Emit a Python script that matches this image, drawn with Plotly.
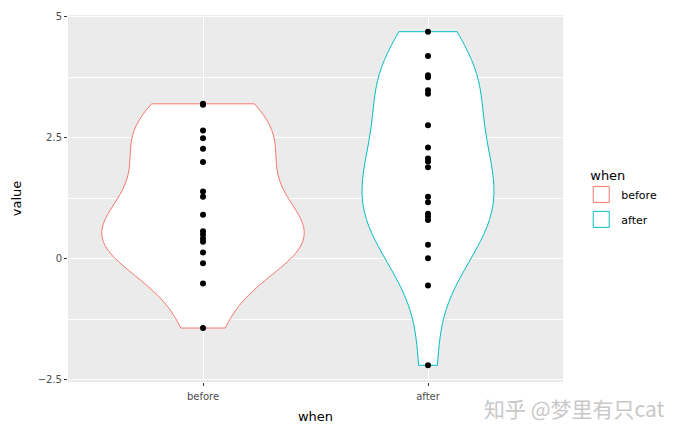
import numpy as np
import plotly.graph_objects as go

# valores
grupos = ["before", "after"]
valores_before = [3.20, 3.18, 2.65, 2.49, 2.27, 2.00, 1.39, 1.28, 0.91, 0.57, 0.50,
                  0.42, 0.35, 0.13, -0.09, -0.51, -1.43]
valores_after = [4.69, 4.19, 3.79, 3.75, 3.48, 3.41, 2.76, 2.30, 2.07, 2.01, 1.89,
                 1.28, 1.17, 0.93, 0.87, 0.80, 0.29, 0.01, -0.55, -2.20]
colores = ["#F8766D", "#00BFC4"]
anchos = [0.9, 0.585]


# ancho de banda estilo bw.nrd0 de R
def bw_nrd0(x):
    x = np.asarray(x)
    iqr = np.subtract(*np.percentile(x, [75, 25]))
    lo = min(np.std(x, ddof=1), iqr / 1.34)
    return 0.9 * lo * len(x) ** -0.2


fig = go.Figure()
for nombre, vals, color, ancho in zip(grupos, [valores_before, valores_after], colores, anchos):
    fig.add_trace(go.Violin(
        x=[nombre] * len(vals),
        y=vals,
        name=nombre,
        legendgroup=nombre,
        showlegend=False,
        line=dict(color=color, width=1),
        fillcolor="white",
        points="all",
        jitter=0,
        pointpos=0,
        marker=dict(color="black", size=6),
        spanmode="hard",
        bandwidth=bw_nrd0(vals),
        width=ancho,
        scalemode="width",
        hoveron="points",
    ))

# entradas de leyenda con cuadros como los de ggplot
for nombre, color in zip(grupos, colores):
    fig.add_trace(go.Scatter(
        x=[None], y=[None], mode="markers", name=nombre, legendgroup=nombre,
        marker=dict(symbol="square-open", size=16, color=color, line=dict(width=1)),
    ))

# el navegador deja 8px de margen en el body, por eso l y t son menores
fig.update_layout(
    width=675, height=427,
    margin=dict(l=60, r=120, t=7, b=53),
    paper_bgcolor="white",
    plot_bgcolor="#EBEBEB",
    violinmode="overlay",
    font=dict(family="DejaVu Sans", color="black"),
    legend=dict(
        title=dict(text="when", font=dict(size=13)),
        font=dict(size=11),
        x=1.051, y=0.50, yanchor="middle",
        tracegroupgap=6,
        itemwidth=30,
        indentation=-7,
    ),
    xaxis=dict(
        title=dict(text="when", font=dict(size=13), standoff=10),
        categoryorder="array", categoryarray=grupos,
        range=[-0.6, 1.6],
        showgrid=True, gridcolor="white", gridwidth=1,
        ticks="outside", ticklen=3, tickcolor="#333333",
        tickfont=dict(size=10, color="#4D4D4D"),
        ticklabelstandoff=2,
        zeroline=False, automargin=False,
    ),
    yaxis=dict(
        title=dict(text="value", font=dict(size=13), standoff=13),
        range=[-2.545, 5.035],
        tick0=0, dtick=2.5,
        showgrid=True, gridcolor="white", gridwidth=1,
        minor=dict(dtick=1.25, showgrid=True, gridcolor="white", gridwidth=0.5),
        ticks="outside", ticklen=3, tickcolor="#333333",
        tickfont=dict(size=10, color="#4D4D4D"),
        zeroline=False, automargin=False,
    ),
)

# marca de agua
fig.add_annotation(
    text="知乎 @梦里有只cat", xref="paper", yref="paper",
    x=1.21, y=-0.071, xanchor="right", yanchor="middle", showarrow=False,
    font=dict(family="Noto Sans CJK SC", size=21, color="#C8C8C8"),
)

fig.write_html("out.html")
